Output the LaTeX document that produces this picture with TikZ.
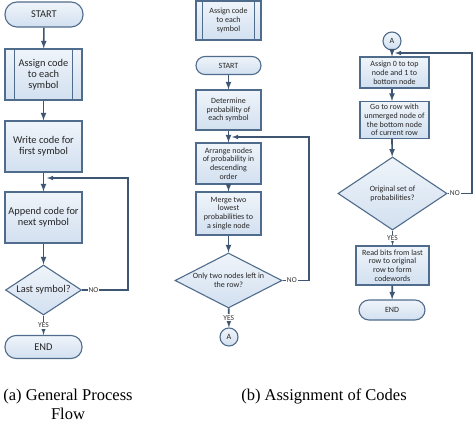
\documentclass[tikz,border=0pt]{standalone}
\usepackage{fontspec}
\setmainfont{Liberation Serif}
\newfontfamily\boxFont{Carlito}
\usetikzlibrary{shapes.geometric}
\definecolor{boxFill}{RGB}{210,224,240}
\definecolor{boxLine}{RGB}{80,108,140}
\definecolor{arrowColor}{RGB}{62,86,114}
\tikzstyle{pixelGrid} = [x = 1pt, y = -1pt]
\tikzstyle{shapeBase} = [draw=boxLine, line width=1.1pt, top color=boxFill!35!white, bottom color=boxFill, align=center, inner sep=0pt, text=black!85]
\tikzstyle{processBox} = [shapeBase, rectangle]
\tikzstyle{terminalBox} = [shapeBase, rectangle, rounded corners = 9pt]
\tikzstyle{decisionBox} = [shapeBase, diamond, aspect = 2]
\tikzstyle{connectorBox} = [shapeBase, circle, minimum size = 18pt]
\tikzstyle{bigText} = [font=\boxFont\fontsize{10.4}{11}\selectfont]
\tikzstyle{smallText} = [font=\boxFont\fontsize{8}{8.8}\selectfont]
\tikzstyle{flowArrow} = [color=arrowColor, line width=1.6pt, -latex]
\tikzstyle{loopArrow} = [color=arrowColor, line width=1.1pt, -latex]
\tikzstyle{branchLabel} = [font=\boxFont\fontsize{7.5}{8}\selectfont, fill=white, inner sep=1pt, text=black!80]
\tikzstyle{captionText} = [font=\fontsize{16.5}{19}\selectfont, align=center]
\newcommand{\predefinedLines}[2]{
  \draw [boxLine, line width=1.1pt] ([xshift=#2]#1.north west) -- ([xshift=#2]#1.south west);
  \draw [boxLine, line width=1.1pt] ([xshift=-#2]#1.north east) -- ([xshift=-#2]#1.south east);
}

\begin{document}
\begin{tikzpicture}[pixelGrid]
  \useasboundingbox [fill=white] (0,0) rectangle (474,423);

  % (a) general process flow
  \node [terminalBox, bigText, rounded corners = 12pt, minimum width = 78pt, minimum height = 25pt] (startA) at (44,14.5) {START};
  \node [processBox, bigText, minimum width = 77pt, minimum height = 51pt] (assignA) at (43.5,74.5) {Assign code\\to each\\symbol};
  \predefinedLines{assignA}{10pt}
  \node [processBox, bigText, minimum width = 77pt, minimum height = 51pt] (writeA) at (43.5,146.5) {Write code for\\first symbol};
  \node [processBox, bigText, minimum width = 77pt, minimum height = 51pt] (appendA) at (43.5,217.5) {Append code for\\next symbol};
  \node [decisionBox, bigText, aspect = 1.5, minimum width = 76pt, minimum height = 50pt] (lastA) at (43.5,290) {Last symbol?};
  \node [terminalBox, bigText, rounded corners = 11pt, minimum width = 77pt, minimum height = 23pt] (endA) at (43.5,347) {END};
  \coordinate (loopInA) at (47,178);
  \coordinate (loopRightA) at (128,178);

  \draw [flowArrow] (startA) -- (assignA);
  \draw [flowArrow] (assignA) -- (writeA);
  \draw [flowArrow] (writeA) -- (appendA);
  \draw [flowArrow] (appendA) -- (lastA);
  \draw [flowArrow] (lastA) -- node [branchLabel] {YES} (endA);
  \draw [loopArrow] (lastA.east) -- node [branchLabel, pos=0.25] {NO} (lastA.east -| loopRightA) -- (loopRightA) -- (loopInA);

  % (b) assignment of codes, first part
  \node [processBox, smallText, minimum width = 65pt, minimum height = 39pt] (assignB) at (228.5,20.5) {Assign code\\to each\\symbol};
  \predefinedLines{assignB}{7pt}
  \node [terminalBox, smallText, minimum width = 65pt, minimum height = 18pt] (startB) at (228.5,65.5) {START};
  \node [processBox, smallText, minimum width = 65pt, minimum height = 40pt] (determineB) at (228.5,110) {Determine\\probability of\\each symbol};
  \node [processBox, smallText, minimum width = 65pt, minimum height = 41pt] (arrangeB) at (228.5,163.5) {Arrange nodes\\of probability in\\descending\\order};
  \node [processBox, smallText, minimum width = 65pt, minimum height = 43pt] (mergeB) at (228.5,213.5) {Merge two\\lowest\\probabilities to\\a single node};
  \node [decisionBox, smallText, minimum width = 107pt, minimum height = 55pt] (onlyTwoB) at (228.5,280.5) {Only two nodes left in\\the row?};
  \node [connectorBox, smallText] (connA) at (229,337) {A};
  \coordinate (loopInB) at (232,137);
  \coordinate (loopRightB) at (309,137);

  \draw [flowArrow] (startB) -- (determineB);
  \draw [flowArrow] (determineB) -- (arrangeB);
  \draw [flowArrow] (arrangeB) -- (mergeB);
  \draw [flowArrow] (mergeB) -- (onlyTwoB);
  \draw [flowArrow] (onlyTwoB) -- node [branchLabel] {YES} (connA);
  \draw [loopArrow] (onlyTwoB.east) -- node [branchLabel, pos=0.35] {NO} (onlyTwoB.east -| loopRightB) -- (loopRightB) -- (loopInB);

  % (b) assignment of codes, second part
  \node [connectorBox, smallText] (connC) at (392,41) {A};
  \node [processBox, smallText, minimum width = 69pt, minimum height = 31pt] (assignC) at (394.5,72.5) {Assign 0 to top\\node and 1 to\\bottom node};
  \node [processBox, smallText, minimum width = 69pt, minimum height = 37pt] (gotoC) at (394.5,120) {Go to row with\\unmerged node of\\the bottom node\\of current row};
  \node [decisionBox, smallText, aspect = 1.5, minimum width = 109pt, minimum height = 73pt] (originalC) at (392.5,193.5) {Original set of\\probabilities?};
  \node [processBox, smallText, minimum width = 73pt, minimum height = 39pt] (readC) at (392.5,265.5) {Read bits from last\\row to original\\row to form\\codewords};
  \node [terminalBox, smallText, rounded corners = 10pt, minimum width = 66pt, minimum height = 20pt] (endC) at (392,310) {END};
  \coordinate (loopInC) at (395,53);
  \coordinate (loopRightC) at (472,53);

  \draw [flowArrow] (connC) -- (connC |- assignC.north);
  \draw [flowArrow] (assignC.south -| connC) -- (connC |- gotoC.north);
  \draw [flowArrow] (gotoC.south -| connC) -- (originalC);
  \draw [flowArrow] (originalC) -- node [branchLabel] {YES} (readC);
  \draw [flowArrow] (readC) -- (endC);
  \draw [loopArrow] (originalC.east) -- node [branchLabel, pos=0.3] {NO} (originalC.east -| loopRightC) -- (loopRightC) -- (loopInC);

  % captions
  \node [captionText] (captionA) at (68,404.5) {(a) General Process\\Flow};
  \node [captionText] (captionB) at (324,396) {(b) Assignment of Codes};
\end{tikzpicture}
\end{document}
